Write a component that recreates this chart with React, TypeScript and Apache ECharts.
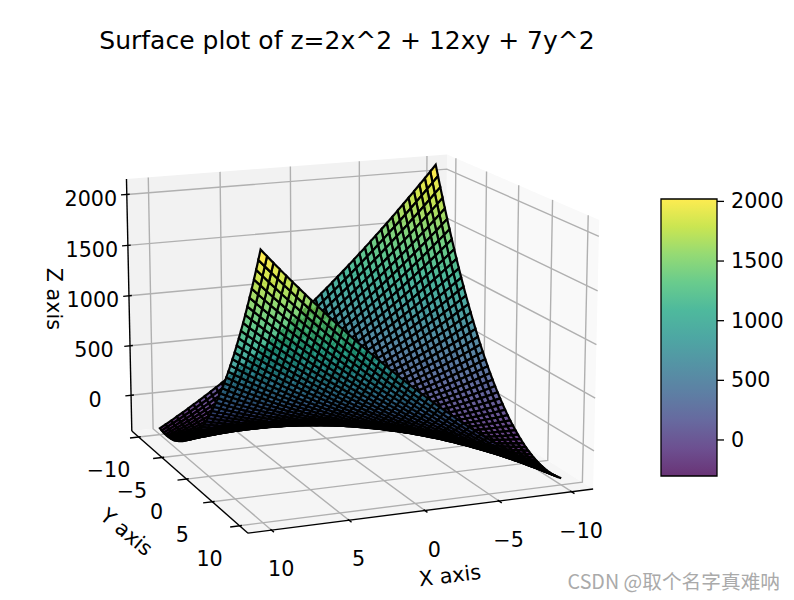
import React, { useEffect, useRef } from 'react';
import * as echarts from 'echarts';

const xValues = [-10, -9.6, -9.2, -8.8, -8.4, -8, -7.6, -7.2, -6.8, -6.4, -6, -5.6, -5.2, -4.8, -4.4, -4, -3.6, -3.2, -2.8, -2.4, -2, -1.6, -1.2, -0.8, -0.4, 0, 0.4, 0.8, 1.2, 1.6, 2, 2.4, 2.8, 3.2, 3.6, 4, 4.4, 4.8, 5.2, 5.6, 6, 6.4, 6.8, 7.2, 7.6, 8, 8.4, 8.8, 9.2, 9.6, 10];
const yValues = xValues;
// z rows for y = -10 .. 0, x left to right; the other half is the same turned round
const zHalfRows = [
  [2100,2036,1973,1911,1849,1788,1728,1668,1608,1550,1492,1435,1378,1322,1267,1212,1158,1104,1052,1000,948,897,847,797,748,700,652,605,559,513,468,424,380,336,294,252,211,170,130,91,52,14,-24,-60,-96,-132,-167,-201,-235,-268,-300],
  [1997,1935,1874,1814,1754,1695,1636,1578,1521,1464,1408,1353,1298,1244,1191,1138,1086,1034,983,933,884,835,786,739,692,645,599,554,510,466,423,380,338,297,256,216,177,138,100,63,26,-10,-46,-81,-115,-148,-181,-214,-245,-276,-307],
  [1896,1837,1777,1719,1661,1604,1547,1491,1436,1381,1327,1273,1221,1168,1117,1066,1016,966,917,869,821,774,728,682,637,592,549,505,463,421,380,339,299,260,221,183,145,109,72,37,2,-32,-66,-99,-131,-163,-194,-224,-254,-283,-312],
  [1798,1740,1683,1626,1570,1515,1460,1406,1353,1300,1248,1196,1145,1095,1045,996,948,900,853,807,761,716,672,628,585,542,500,459,418,378,339,300,262,225,188,152,116,81,47,13,-20,-52,-84,-115,-145,-175,-204,-232,-260,-287,-314],
  [1702,1646,1591,1536,1482,1428,1376,1323,1272,1221,1171,1121,1072,1024,976,929,883,837,792,747,704,660,618,576,535,494,454,415,376,338,300,264,227,192,157,123,89,56,24,-8,-39,-69,-99,-128,-157,-184,-212,-238,-264,-289,-314],
  [1608,1554,1500,1448,1396,1344,1293,1243,1193,1144,1096,1048,1001,955,909,864,820,776,732,690,648,607,566,526,487,448,410,372,336,300,264,229,195,161,128,96,64,33,3,-27,-56,-84,-112,-140,-166,-192,-217,-242,-266,-289,-312],
  [1516,1464,1413,1362,1312,1262,1213,1165,1117,1070,1024,978,933,888,844,801,759,717,675,635,595,555,517,479,441,404,368,333,298,264,230,197,165,133,102,72,42,13,-16,-44,-71,-97,-123,-149,-173,-197,-221,-243,-265,-287,-308],
  [1427,1377,1327,1278,1230,1182,1135,1089,1043,998,953,909,866,824,782,740,700,660,620,582,544,506,469,433,398,363,329,295,262,230,198,167,137,107,78,49,21,-6,-32,-58,-84,-108,-132,-156,-178,-200,-222,-243,-263,-282,-301],
  [1340,1291,1244,1197,1150,1104,1059,1015,971,928,885,843,802,761,721,682,643,605,568,531,495,459,424,390,357,324,291,260,229,198,168,139,111,83,56,29,3,-22,-47,-71,-94,-117,-139,-160,-181,-201,-221,-240,-258,-275,-292],
  [1255,1208,1163,1117,1073,1029,986,943,901,860,820,780,740,701,663,626,589,553,517,483,448,415,382,349,318,287,256,227,197,169,141,114,87,61,36,12,-12,-36,-59,-81,-102,-123,-143,-163,-181,-200,-217,-234,-251,-266,-281],
  [1172,1128,1084,1040,998,956,915,874,834,795,756,718,680,644,608,572,537,503,469,436,404,372,341,311,281,252,224,196,168,142,116,91,66,42,19,-4,-26,-48,-68,-88,-108,-127,-145,-163,-180,-196,-212,-227,-241,-255,-268],
  [1092,1049,1007,966,925,885,846,807,769,732,695,659,623,588,554,520,487,455,423,392,362,332,303,275,247,220,193,167,142,117,93,70,47,25,4,-17,-37,-57,-76,-94,-112,-129,-145,-161,-176,-190,-204,-217,-229,-241,-252],
  [1013,973,933,893,855,816,779,742,706,671,636,601,568,535,503,471,440,409,380,351,322,294,267,240,215,189,165,141,117,95,72,51,30,10,-9,-28,-47,-64,-81,-97,-113,-128,-143,-156,-169,-182,-194,-205,-216,-225,-235],
  [937,899,860,823,786,750,715,680,645,612,579,547,515,484,453,424,395,366,338,311,284,259,233,209,185,161,139,116,95,74,54,35,16,-3,-20,-37,-53,-69,-84,-99,-112,-125,-138,-150,-161,-172,-181,-191,-199,-207,-215],
  [864,827,791,755,720,686,652,619,587,555,524,494,464,435,407,379,352,325,299,274,249,225,202,179,157,136,115,95,75,56,38,20,3,-13,-29,-44,-58,-72,-85,-97,-109,-120,-131,-141,-150,-159,-167,-174,-181,-187,-192],
  [792,757,723,689,656,624,592,561,531,501,472,444,416,388,362,336,311,286,262,239,216,194,172,152,132,112,93,75,57,40,24,8,-7,-21,-35,-48,-60,-72,-84,-94,-104,-113,-122,-130,-137,-144,-150,-156,-160,-164,-168],
  [723,690,657,626,595,564,535,505,477,449,422,395,369,344,320,296,272,249,227,206,185,165,145,127,108,91,74,57,42,27,12,-1,-15,-27,-39,-50,-61,-71,-80,-88,-96,-104,-111,-117,-122,-127,-131,-135,-137,-140,-141],
  [656,625,594,564,535,507,479,452,425,399,374,349,325,302,279,257,236,215,195,175,156,138,121,104,87,72,57,42,28,15,3,-9,-20,-31,-41,-50,-59,-67,-74,-81,-87,-92,-97,-101,-105,-108,-110,-111,-112,-113,-112],
  [591,562,533,505,478,452,426,400,376,352,328,306,284,262,241,221,202,183,165,147,130,114,98,83,69,55,42,29,17,6,-4,-14,-24,-32,-40,-48,-54,-60,-66,-71,-75,-78,-81,-83,-85,-86,-86,-86,-85,-83,-81],
  [528,501,475,449,423,399,375,351,329,307,285,264,244,225,206,188,170,153,137,121,106,92,78,65,52,40,29,19,9,-1,-9,-17,-25,-31,-37,-43,-48,-52,-55,-58,-60,-62,-63,-63,-63,-62,-60,-58,-55,-52,-48],
  [468,443,418,394,371,348,326,304,284,264,244,225,207,189,172,156,140,125,111,97,84,72,60,48,38,28,19,10,2,-5,-12,-18,-24,-28,-32,-36,-39,-41,-43,-44,-44,-44,-43,-41,-39,-36,-32,-28,-24,-18,-12],
  [410,387,364,342,320,300,279,260,241,223,205,188,172,156,141,127,113,100,87,76,64,54,44,35,26,18,11,4,-2,-8,-12,-17,-20,-23,-25,-27,-28,-28,-28,-27,-25,-23,-20,-17,-12,-8,-2,4,11,18,26],
  [354,333,312,292,272,253,235,217,200,184,168,153,139,125,112,100,88,77,66,56,47,38,30,23,16,10,5,0,-4,-8,-11,-13,-15,-16,-16,-16,-15,-13,-11,-8,-4,0,5,10,16,23,30,38,47,56,66],
  [300,281,262,244,226,209,193,177,162,148,134,121,108,97,85,75,65,56,47,39,32,25,19,13,9,4,1,-2,-4,-6,-7,-7,-7,-6,-4,-2,1,4,9,13,19,25,32,39,47,56,65,75,85,97,108],
  [249,232,215,198,183,168,153,139,126,114,102,91,80,70,61,52,44,37,30,24,19,14,10,6,3,1,0,-1,-2,-1,0,1,3,6,10,14,19,24,30,37,44,52,61,70,80,91,102,114,126,139,153],
  [200,184,169,155,141,128,116,104,92,82,72,63,54,46,39,32,26,20,16,12,8,5,3,1,0,0,0,1,3,5,8,12,16,20,26,32,39,46,54,63,72,82,92,104,116,128,141,155,169,184,200],
];
const xTicks = [-10, -5, 0, 5, 10];
const yTicks = [-10, -5, 0, 5, 10];
const zTicks = [0, 500, 1000, 1500, 2000];
const colorbarTicks = [0, 500, 1000, 1500, 2000];
const viridis = ['#440154', '#482475', '#414487', '#355f8d', '#2a788e', '#21918c', '#22a884', '#44bf70', '#7ad151', '#bddf26', '#fde725'];

const zRows = yValues.map((_, j) =>
  j < zHalfRows.length ? zHalfRows[j] : [...zHalfRows[yValues.length - 1 - j]].reverse()
);

const XLIM = [-11.5, 11.5];
const YLIM = [-11.5, 11.5];
const ZLIM = [-364, 2150];
const CMIN = -302;
const CMAX = 2020;

// same camera as mplot3d
const ELEV = (14.5 * Math.PI) / 180;
const AZIM = (68 * Math.PI) / 180;
const DIST = 10;
const BOX = [1.3076, 1.3076, 0.9807];
const SCALE = 2740;
const CX = 354.5;
const CY = 330.5;

const w = [Math.cos(ELEV) * Math.cos(AZIM), Math.cos(ELEV) * Math.sin(AZIM), Math.sin(ELEV)];
const eye = [BOX[0] / 2 + DIST * w[0], BOX[1] / 2 + DIST * w[1], BOX[2] / 2 + DIST * w[2]];
const uLen = Math.hypot(w[0], w[1]);
const u = [-w[1] / uLen, w[0] / uLen, 0];
const v = [w[1] * u[2] - w[2] * u[1], w[2] * u[0] - w[0] * u[2], w[0] * u[1] - w[1] * u[0]];

const project = (x: number, y: number, z: number) => {
  const p = [
    ((x - XLIM[0]) / (XLIM[1] - XLIM[0])) * BOX[0] - eye[0],
    ((y - YLIM[0]) / (YLIM[1] - YLIM[0])) * BOX[1] - eye[1],
    ((z - ZLIM[0]) / (ZLIM[1] - ZLIM[0])) * BOX[2] - eye[2],
  ];
  const depth = -(w[0] * p[0] + w[1] * p[1] + w[2] * p[2]);
  return [
    (u[0] * p[0] + u[1] * p[1]) / depth,
    (v[0] * p[0] + v[1] * p[1] + v[2] * p[2]) / depth,
    depth,
  ];
};

const viridisAt = (t: number) => {
  const pos = Math.max(0, Math.min(1, t)) * (viridis.length - 1);
  const k = Math.min(Math.floor(pos), viridis.length - 2);
  const c = echarts.color.lerp(pos - k, [viridis[k], viridis[k + 1]]);
  return echarts.color.modifyAlpha(c, 0.8);
};

type P3 = [number, number, number];
const [x0, x1] = XLIM;
const [y0, y1] = YLIM;
const [z0, z1] = ZLIM;

const panes = [
  { color: '#f9f9f9', pts: [[x0, y0, z0], [x0, y1, z0], [x0, y1, z1], [x0, y0, z1]] as P3[] },
  { color: '#f2f2f2', pts: [[x0, y0, z0], [x1, y0, z0], [x1, y0, z1], [x0, y0, z1]] as P3[] },
  { color: '#f5f5f5', pts: [[x0, y0, z0], [x1, y0, z0], [x1, y1, z0], [x0, y1, z0]] as P3[] },
];

const gridLines: P3[][] = [
  ...xTicks.map((t) => [[t, y1, z0], [t, y0, z0], [t, y0, z1]] as P3[]),
  ...yTicks.map((t) => [[x1, t, z0], [x0, t, z0], [x0, t, z1]] as P3[]),
  ...zTicks.map((t) => [[x1, y0, t], [x0, y0, t], [x0, y1, t]] as P3[]),
];

const axisLines: P3[][] = [
  [[x1, y1, z0], [x0, y1, z0]],
  [[x1, y0, z0], [x1, y1, z0]],
  [[x1, y0, z0], [x1, y0, z1]],
  ...xTicks.map((t) => [[t, y1 - 0.2, z0], [t, y1 + 0.4, z0]] as P3[]),
  ...yTicks.map((t) => [[x1 - 0.15, t, z0], [x1 + 0.6, t, z0]] as P3[]),
  ...zTicks.map((t) => [[x1 - 0.2, y0, t], [x1 + 0.4, y0, t]] as P3[]),
];

const cells: { i: number; j: number; depth: number; avg: number }[] = [];
for (let j = 0; j < yValues.length - 1; j++) {
  for (let i = 0; i < xValues.length - 1; i++) {
    const avg = (zRows[j][i] + zRows[j][i + 1] + zRows[j + 1][i] + zRows[j + 1][i + 1]) / 4;
    const depth = project((xValues[i] + xValues[i + 1]) / 2, (yValues[j] + yValues[j + 1]) / 2, avg)[2];
    cells.push({ i, j, depth, avg });
  }
}
cells.sort((a, b) => b.depth - a.depth);

const FONT = 'DejaVu Sans';
const FONT_SIZE = 20.7;
const tickLabel = (t: number) => String(t).replace('-', '\u2212');

const labels = [
  ...xTicks.map((t) => ({ at: [t, y1, z0] as P3, dx: 9.5, dy: 39, text: tickLabel(t), rot: 0 })),
  ...yTicks.map((t) => ({ at: [x1, t, z0] as P3, dx: -30, dy: 33, text: tickLabel(t), rot: 0 })),
  ...zTicks.map((t) => ({ at: [x1, y0, t] as P3, dx: -36, dy: 4.5, text: tickLabel(t), rot: 0 })),
  { at: [0, y1, z0] as P3, dx: 25, dy: 65, text: 'X axis', rot: 0.12 },
  { at: [x1, 0, z0] as P3, dx: -60, dy: 53, text: 'Y axis', rot: -0.7 },
  { at: [x1, y0, 1000] as P3, dx: -75, dy: 3, text: 'Z axis', rot: -Math.PI / 2 },
];

const view = (api: any, p: P3) => {
  const q = project(p[0], p[1], p[2]);
  return api.coord([q[0], q[1]]);
};

const App = () => {
  const chartRef = useRef<HTMLDivElement>(null);

  useEffect(() => {
    const chart = echarts.init(chartRef.current, undefined, { renderer: 'svg' });

    const viewSeries = { type: 'custom', xAxisIndex: 0, yAxisIndex: 0, silent: true, clip: false };

    chart.setOption({
      animation: false,
      title: {
        text: 'Surface plot of z=2x^2 + 12xy + 7y^2',
        left: 342,
        top: 22.5,
        textAlign: 'center',
        textStyle: { fontFamily: FONT, fontSize: 25, fontWeight: 'normal', color: '#000' },
      },
      grid: [
        { left: 0, top: 0, width: 794, height: 600 },
        { left: 661, top: 199, width: 56, height: 277 },
      ],
      xAxis: [
        { type: 'value', gridIndex: 0, min: -CX / SCALE, max: (794 - CX) / SCALE, show: false },
        { type: 'value', gridIndex: 1, min: 0, max: 1, show: false },
      ],
      yAxis: [
        { type: 'value', gridIndex: 0, min: -(600 - CY) / SCALE, max: CY / SCALE, show: false },
        {
          type: 'value',
          gridIndex: 1,
          position: 'right',
          min: CMIN,
          max: CMAX,
          splitLine: { show: false },
          axisLine: { show: false },
          axisTick: { show: false },
          axisLabel: { customValues: colorbarTicks, margin: 14, padding: [4, 0, 0, 0], fontFamily: FONT, fontSize: FONT_SIZE, color: '#000', formatter: (t: number) => tickLabel(t) },
        },
      ],
      series: [
        {
          ...viewSeries,
          data: panes.map((_, k) => [k]),
          renderItem: (params: any, api: any) => ({
            type: 'polygon',
            shape: { points: panes[params.dataIndex].pts.map((p) => view(api, p)) },
            style: { fill: panes[params.dataIndex].color, stroke: 'none' },
          }),
        },
        {
          ...viewSeries,
          data: gridLines.map((_, k) => [k]),
          renderItem: (params: any, api: any) => ({
            type: 'polyline',
            shape: { points: gridLines[params.dataIndex].map((p) => view(api, p)) },
            style: { fill: 'none', stroke: '#b0b0b0', lineWidth: 1.4 },
          }),
        },
        {
          ...viewSeries,
          data: cells.map((c) => [c.i, c.j]),
          renderItem: (params: any, api: any) => {
            const { i, j, avg } = cells[params.dataIndex];
            const corners: P3[] = [
              [xValues[i], yValues[j], zRows[j][i]],
              [xValues[i + 1], yValues[j], zRows[j][i + 1]],
              [xValues[i + 1], yValues[j + 1], zRows[j + 1][i + 1]],
              [xValues[i], yValues[j + 1], zRows[j + 1][i]],
            ];
            return {
              type: 'polygon',
              shape: { points: corners.map((p) => view(api, p)) },
              style: { fill: viridisAt((avg - CMIN) / (CMAX - CMIN)), stroke: '#000', lineWidth: 2.2 },
            };
          },
        },
        {
          ...viewSeries,
          data: axisLines.map((_, k) => [k]),
          renderItem: (params: any, api: any) => ({
            type: 'polyline',
            shape: { points: axisLines[params.dataIndex].map((p) => view(api, p)) },
            style: { fill: 'none', stroke: '#000', lineWidth: 1.4 },
          }),
        },
        {
          ...viewSeries,
          data: labels.map((_, k) => [k]),
          renderItem: (params: any, api: any) => {
            const l = labels[params.dataIndex];
            const c = view(api, l.at);
            return {
              type: 'text',
              x: c[0] + l.dx,
              y: c[1] + l.dy,
              rotation: l.rot,
              style: { text: l.text, fontFamily: FONT, fontSize: FONT_SIZE, fill: '#000', align: 'center', verticalAlign: 'middle' },
            };
          },
        },
        {
          type: 'custom',
          xAxisIndex: 1,
          yAxisIndex: 1,
          silent: true,
          clip: false,
          data: [[0]],
          renderItem: (_: any, api: any) => {
            const a = api.coord([0, CMAX]);
            const b = api.coord([1, CMIN]);
            return {
              type: 'group',
              children: [
                {
                  type: 'rect',
                  shape: { x: a[0], y: a[1], width: b[0] - a[0], height: b[1] - a[1] },
                  style: {
                    fill: new echarts.graphic.LinearGradient(0, 1, 0, 0, viridis.map((c, k) => ({ offset: k / (viridis.length - 1), color: echarts.color.modifyAlpha(c, 0.8) }))),
                    stroke: '#000',
                    lineWidth: 1.3,
                  },
                },
                ...colorbarTicks.map((t) => {
                  const p = api.coord([1, t]);
                  return {
                    type: 'line',
                    shape: { x1: p[0], y1: p[1], x2: p[0] + 7, y2: p[1] },
                    style: { stroke: '#000', lineWidth: 1.3 },
                  };
                }),
              ],
            };
          },
        },
      ],
      graphic: [
        {
          type: 'text',
          right: 14,
          top: 571,
          style: { text: 'CSDN @取个名字真难呐', fontFamily: 'Noto Sans CJK SC', fontSize: 19.7, fill: '#aaaaaa' },
        },
      ],
    });

    return () => {
      chart.dispose();
    };
  }, []);

  return <div ref={chartRef} style={{ position: 'absolute', left: 0, top: 0, width: 794, height: 600 }}></div>;
};

export default App;
